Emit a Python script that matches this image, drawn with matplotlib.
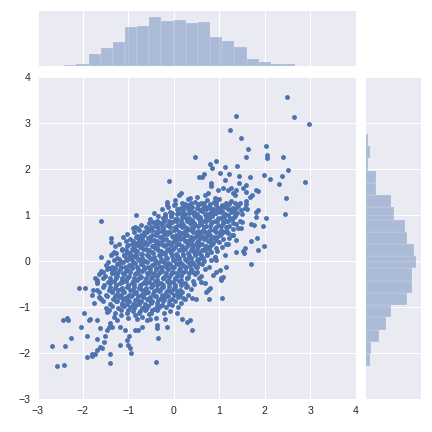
import numpy as np
import matplotlib
matplotlib.use("Agg")
import matplotlib.pyplot as plt

# scattered points (outside the dense middle)
outer_x = [2.5, 2.64, 2.97, 1.36, 1.23, 1.47, 2.04, 1.64, 2.05, 2.06,
           1.59, 2.4, 0.46, 0.8, 0.92, 0.84, 1.12, 1.4, 2.52, 0.66,
           0.62, 1.02, 1.22, 1.44, 1.68, 1.98, 2.11, 2.39, 2.32, 2.89,
           1.12, 0.82, 1.86, 2.46, 2.44, 2.04, 1.8, 1.7, 1.77, 1.97,
           1.84, 1.29, 1.72, 1.67, 1.59, 1.53, 1.26, 1.2, 1.09, 1.31,
           0.55, -0.11, 0.15, 0.11, 0.36, 0.5, -0.14, -0.15, 0.01, 0.36,
           -0.83, -0.43, -1.6, -0.19, -0.86, -0.81, -0.59, -1.38, 0.83, 1.43,
           0.98, 1.38, 1.34, 1.6, 1.82, 0.69, 0.76, 0.91, 1.86, 1.82,
           1.56, 0.1, 0.17, -0.46, -0.37, -0.26,
           -1.38, -1.6, -1.37, -1.31, -1.03, -0.96, -0.89, -1.73, -1.56, -1.36,
           -2.08, -1.95, -1.78, -1.8, -1.65, -1.62, -1.76, -2.43, -2.32, -2.35,
           -1.98, -2.05, -2.27, -2.68, -2.39, -2.58, -2.41, -1.91, -1.81, -1.79,
           -1.4, -1.4, -1.69, -1.62, -1.92, -1.69, -1.54, -1.51, -1.62, -1.47,
           -1.43, -1.18, -1.0, -0.96, -0.94, -0.39, -0.34, -1.02, -0.99, -1.4,
           -1.36, -1.87, -1.84, -1.69, -1.48, -1.43, -1.25, -1.18, -1.07, -0.85,
           -0.78, -0.7, -0.37, -0.36, -0.14, 0.17, 0.28, 0.39, 0.07, -0.19,
           -0.59, -0.52, -0.81, -1.43, -1.25, -1.69, -0.74, -0.81, -1.74, -1.57,
           1.71, 1.98, 1.86, 1.38, 1.53, 1.55, 1.71, 1.12, 1.07, 0.77,
           1.05, 1.09, 0.8, 0.76, 0.71, 0.87, 0.94, 1.02, 1.16, 0.61,
           0.69, 0.49, 0.39, 0.36, 0.21, 0.14, 0.1, 0.91, 0.94, 1.2,
           1.38, 1.09, 1.2, 1.49, 1.31, 1.56, 1.04]
outer_y = [3.57, 3.14, 2.98, 3.16, 2.85, 2.68, 2.5, 2.44, 2.31, 2.25,
           2.27, 2.27, 2.27, 2.11, 2.18, 2.03, 2.05, 2.07, 1.97, 1.89,
           1.83, 1.92, 1.89, 1.85, 1.83, 1.88, 1.79, 1.85, 1.68, 1.72,
           1.76, 1.64, 1.53, 1.38, 1.03, 0.94, 1.07, 0.8, 0.78, 0.77,
           0.49, 0.57, 1.43, 1.39, 1.65, 1.58, 1.58, 1.54, 1.58, 1.47,
           1.83, 1.75, 1.48, 1.44, 1.38, 1.4, 1.29, 1.21, 1.22, 1.22,
           1.01, 1.05, 0.88, 0.98, 0.75, 0.72, 0.7, 0.49, 1.69, 1.69,
           1.54, 1.54, 1.43, 1.51, 1.54, 1.43, 1.47, 1.36, 1.11, 0.96,
           1.15, 1.05, 1.02, 0.85, 0.82, 0.78,
           0.41, 0.09, 0.15, 0.2, 0.2, 0.08, 0.11, -0.38, -0.23, -0.2,
           -0.58, -0.58, -0.62, -0.74, -0.78, -0.81, -0.92, -1.28, -1.28, -1.23,
           -1.14, -1.44, -1.67, -1.85, -1.85, -2.28, -2.26, -2.08, -2.07, -2.02,
           -2.22, -2.02, -1.93, -1.88, -1.63, -1.69, -1.75, -1.63, -1.46, -1.49,
           -1.43, -1.83, -1.83, -1.9, -1.99, -2.19, -1.68, -1.72, -1.63, -1.35,
           -1.43, -1.28, -1.25, -1.28, -1.1, -1.07, -1.28, -1.43, -1.5, -1.5,
           -1.49, -1.43, -1.39, -1.46, -1.44, -1.25, -1.32, -1.49, -1.14, -1.25,
           -1.28, -1.25, -1.25, -0.16, -0.27, -0.45, 0.42, 0.35, -2.02, -1.9,
           0.44, 0.33, 0.24, 0.2, 0.22, 0.18, -0.06, 0.13, -0.8, -0.83,
           -0.38, -0.34, -0.59, -0.63, -0.67, -0.3, -0.23, -0.2, -0.14, -0.45,
           -0.48, -0.83, -0.81, -1.28, -0.81, -0.74, -0.99, 0.09, 0.02, 0.38,
           0.46, 0.64, 0.6, 0.71, 0.57, 0.28, -0.41]

# dense middle of the cloud, one line per band
core_x = [
    0.02, 0.18, 0.31, 0.47, 0.6, 0.73, 0.88, 1.0, 1.14, 1.27, 1.45, 1.58,
    -0.12, 0.03, 0.15, 0.29, 0.4, 0.55, 0.66, 0.79, 0.92, 1.03, 1.17, 1.3, 1.42, 1.58,
    -0.25, -0.08, 0.06, 0.2, 0.32, 0.45, 0.57, 0.7, 0.82, 0.95, 1.07, 1.2, 1.33, 1.47, 1.62,
    -0.35, -0.2, -0.06, 0.08, 0.19, 0.33, 0.44, 0.58, 0.69, 0.83, 0.94, 1.08, 1.19, 1.32, 1.5,
    -0.52, -0.38, -0.23, -0.1, 0.03, 0.16, 0.27, 0.41, 0.53, 0.66, 0.78, 0.9, 1.03, 1.15, 1.28, 1.45,
    -0.72, -0.55, -0.42, -0.28, -0.16, -0.03, 0.1, 0.22, 0.35, 0.47, 0.6, 0.72, 0.84, 0.97, 1.09, 1.22, 1.36, 1.5,
    -0.9, -0.76, -0.61, -0.49, -0.35, -0.22, -0.09, 0.04, 0.17, 0.29, 0.42, 0.54, 0.66, 0.79, 0.91, 1.04, 1.16, 1.3, 1.42,
    -1.02, -0.87, -0.73, -0.6, -0.47, -0.34, -0.21, -0.08, 0.05, 0.18, 0.3, 0.43, 0.55, 0.68, 0.8, 0.93, 1.05, 1.18, 1.31,
    -1.12, -0.97, -0.84, -0.7, -0.57, -0.44, -0.31, -0.18, -0.05, 0.08, 0.2, 0.33, 0.46, 0.58, 0.71, 0.83, 0.96, 1.08, 1.22,
    -1.2, -1.06, -0.92, -0.79, -0.66, -0.53, -0.4, -0.27, -0.14, -0.01, 0.12, 0.25, 0.37, 0.5, 0.62, 0.75, 0.87, 1.0, 1.14,
    -1.3, -1.15, -1.02, -0.88, -0.75, -0.62, -0.49, -0.36, -0.23, -0.1, 0.03, 0.16, 0.28, 0.41, 0.54, 0.66, 0.79, 0.92, 1.06,
    -1.28, -1.14, -1.0, -0.86, -0.73, -0.6, -0.47, -0.34, -0.21, -0.08, 0.05, 0.18, 0.31, 0.43, 0.56, 0.69, 0.82, 0.96,
    -1.38, -1.24, -1.1, -0.96, -0.83, -0.7, -0.57, -0.44, -0.31, -0.18, -0.05, 0.08, 0.21, 0.34, 0.47, 0.6, 0.73, 0.9,
    -1.45, -1.31, -1.17, -1.03, -0.9, -0.77, -0.64, -0.51, -0.38, -0.25, -0.12, 0.01, 0.14, 0.27, 0.4, 0.53, 0.67, 0.83,
    -1.5, -1.36, -1.22, -1.08, -0.95, -0.82, -0.69, -0.56, -0.43, -0.3, -0.17, -0.04, 0.09, 0.22, 0.35, 0.48, 0.62, 0.78,
    -1.6, -1.46, -1.32, -1.18, -1.05, -0.92, -0.79, -0.66, -0.53, -0.4, -0.27, -0.14, -0.01, 0.12, 0.25, 0.38, 0.52, 0.68,
    -1.65, -1.51, -1.37, -1.24, -1.11, -0.98, -0.85, -0.72, -0.59, -0.46, -0.33, -0.2, -0.07, 0.06, 0.19, 0.32, 0.46, 0.6,
    -1.7, -1.55, -1.41, -1.28, -1.15, -1.02, -0.89, -0.76, -0.63, -0.5, -0.37, -0.24, -0.11, 0.02, 0.15, 0.28, 0.42, 0.55,
    -1.68, -1.54, -1.4, -1.27, -1.14, -1.01, -0.88, -0.75, -0.62, -0.49, -0.36, -0.23, -0.1, 0.03, 0.16, 0.3, 0.45,
    -1.7, -1.56, -1.42, -1.29, -1.16, -1.03, -0.9, -0.77, -0.64, -0.51, -0.38, -0.25, -0.12, 0.01, 0.14, 0.27, 0.38,
    -1.64, -1.5, -1.37, -1.24, -1.11, -0.98, -0.85, -0.72, -0.59, -0.46, -0.33, -0.2, -0.07, 0.06, 0.19, 0.31,
    -1.6, -1.46, -1.33, -1.2, -1.07, -0.94, -0.81, -0.68, -0.55, -0.42, -0.29, -0.16, -0.03, 0.1, 0.24,
    -1.55, -1.41, -1.28, -1.15, -1.02, -0.89, -0.76, -0.63, -0.5, -0.37, -0.24, -0.11, 0.02, 0.15,
    -1.5, -1.36, -1.22, -1.09, -0.96, -0.83, -0.7, -0.57, -0.44, -0.31, -0.18, -0.04,
    -1.44, -1.3, -1.17, -1.03, -0.9, -0.77, -0.64, -0.5, -0.36, -0.21, -0.08,
    -1.32, -1.17, -1.0, -0.86, -0.7, -0.55, -0.4,
]
core_y = [
    1.32, 1.27, 1.34, 1.29, 1.26, 1.33, 1.28, 1.35, 1.27, 1.31, 1.26, 1.3,
    1.18, 1.23, 1.16, 1.21, 1.17, 1.24, 1.19, 1.15, 1.22, 1.18, 1.24, 1.16, 1.2, 1.23,
    1.12, 1.07, 1.13, 1.08, 1.14, 1.06, 1.11, 1.13, 1.07, 1.12, 1.09, 1.14, 1.06, 1.1, 1.12,
    0.98, 1.03, 0.97, 1.02, 0.96, 1.04, 0.99, 0.95, 1.03, 0.98, 1.04, 0.97, 1.01, 0.96, 1.03,
    0.92, 0.87, 0.93, 0.88, 0.91, 0.86, 0.93, 0.89, 0.94, 0.87, 0.91, 0.86, 0.93, 0.88, 0.92, 0.87,
    0.78, 0.83, 0.77, 0.82, 0.78, 0.84, 0.79, 0.76, 0.83, 0.78, 0.81, 0.76, 0.84, 0.79, 0.82, 0.77, 0.8, 0.84,
    0.72, 0.67, 0.73, 0.68, 0.71, 0.66, 0.73, 0.69, 0.74, 0.67, 0.71, 0.66, 0.73, 0.68, 0.72, 0.67, 0.74, 0.69, 0.72,
    0.58, 0.63, 0.57, 0.62, 0.56, 0.63, 0.59, 0.64, 0.57, 0.61, 0.56, 0.63, 0.58, 0.62, 0.57, 0.64, 0.59, 0.62, 0.57,
    0.52, 0.47, 0.53, 0.48, 0.51, 0.46, 0.53, 0.48, 0.54, 0.47, 0.51, 0.46, 0.53, 0.49, 0.52, 0.47, 0.53, 0.48, 0.51,
    0.38, 0.43, 0.37, 0.42, 0.36, 0.43, 0.39, 0.44, 0.37, 0.41, 0.36, 0.43, 0.38, 0.42, 0.37, 0.44, 0.39, 0.42, 0.37,
    0.32, 0.27, 0.33, 0.28, 0.31, 0.26, 0.33, 0.28, 0.34, 0.27, 0.31, 0.26, 0.33, 0.29, 0.32, 0.27, 0.33, 0.28, 0.31,
    0.18, 0.23, 0.17, 0.22, 0.16, 0.23, 0.19, 0.24, 0.17, 0.21, 0.16, 0.23, 0.18, 0.22, 0.17, 0.24, 0.19, 0.22,
    0.12, 0.07, 0.13, 0.08, 0.11, 0.06, 0.13, 0.08, 0.14, 0.07, 0.11, 0.06, 0.13, 0.09, 0.12, 0.07, 0.13, 0.08,
    -0.02, 0.03, -0.03, 0.02, -0.04, 0.03, -0.01, 0.04, -0.03, 0.01, -0.04, 0.03, -0.02, 0.02, -0.03, 0.04, -0.01, 0.02,
    -0.08, -0.13, -0.07, -0.12, -0.09, -0.14, -0.07, -0.12, -0.06, -0.13, -0.09, -0.14, -0.07, -0.11, -0.08, -0.13, -0.07, -0.12,
    -0.22, -0.17, -0.23, -0.18, -0.21, -0.16, -0.23, -0.18, -0.24, -0.17, -0.21, -0.16, -0.23, -0.19, -0.22, -0.17, -0.23, -0.18,
    -0.28, -0.33, -0.27, -0.32, -0.26, -0.33, -0.29, -0.34, -0.27, -0.31, -0.26, -0.33, -0.28, -0.32, -0.27, -0.34, -0.29, -0.32,
    -0.42, -0.37, -0.43, -0.38, -0.41, -0.36, -0.43, -0.38, -0.44, -0.37, -0.41, -0.36, -0.43, -0.39, -0.42, -0.37, -0.43, -0.38,
    -0.48, -0.53, -0.47, -0.52, -0.46, -0.53, -0.49, -0.54, -0.47, -0.51, -0.46, -0.53, -0.48, -0.52, -0.47, -0.54, -0.49,
    -0.62, -0.57, -0.63, -0.58, -0.61, -0.56, -0.63, -0.58, -0.64, -0.57, -0.61, -0.56, -0.63, -0.59, -0.62, -0.57, -0.61,
    -0.68, -0.73, -0.67, -0.72, -0.66, -0.73, -0.69, -0.74, -0.67, -0.71, -0.66, -0.73, -0.68, -0.72, -0.67, -0.73,
    -0.82, -0.77, -0.83, -0.78, -0.81, -0.76, -0.83, -0.78, -0.84, -0.77, -0.81, -0.76, -0.83, -0.79, -0.82,
    -0.88, -0.93, -0.87, -0.92, -0.86, -0.93, -0.89, -0.94, -0.87, -0.91, -0.86, -0.93, -0.88, -0.92,
    -1.02, -0.97, -1.03, -0.98, -1.01, -0.96, -1.03, -0.98, -1.04, -0.97, -1.01, -0.96,
    -1.08, -1.13, -1.07, -1.12, -1.09, -1.14, -1.07, -1.12, -1.06, -1.13, -1.09,
    -1.22, -1.17, -1.23, -1.18, -1.21, -1.16, -1.23,
]

# second, narrower layer filling the gaps in the middle
core2_x = [
    0.25, 0.38, 0.53, 0.66, 0.8, 0.94, 1.07, 1.21, 1.35,
    0.1, 0.23, 0.36, 0.5, 0.62, 0.76, 0.86, 1.0, 1.12, 1.25, 1.38,
    -0.05, 0.1, 0.24, 0.37, 0.5, 0.63, 0.76, 0.88, 1.01, 1.13, 1.27, 1.4,
    -0.2, -0.07, 0.06, 0.2, 0.33, 0.46, 0.58, 0.72, 0.85, 0.98, 1.1, 1.23, 1.35,
    -0.35, -0.22, -0.08, 0.05, 0.18, 0.3, 0.44, 0.57, 0.7, 0.82, 0.95, 1.08, 1.2, 1.3,
    -0.5, -0.36, -0.23, -0.1, 0.03, 0.16, 0.28, 0.41, 0.54, 0.67, 0.8, 0.92, 1.05, 1.18,
    -0.65, -0.52, -0.39, -0.26, -0.13, 0.0, 0.12, 0.25, 0.38, 0.5, 0.63, 0.76, 0.89, 1.01, 1.14,
    -0.8, -0.66, -0.53, -0.4, -0.27, -0.14, -0.01, 0.12, 0.24, 0.37, 0.5, 0.63, 0.75, 0.88, 1.02,
    -0.9, -0.77, -0.64, -0.51, -0.38, -0.24, -0.11, 0.02, 0.14, 0.27, 0.4, 0.53, 0.66, 0.79, 0.93,
    -1.0, -0.86, -0.72, -0.59, -0.46, -0.33, -0.2, -0.07, 0.06, 0.19, 0.32, 0.44, 0.57, 0.7, 0.85,
    -1.05, -0.92, -0.8, -0.67, -0.54, -0.41, -0.28, -0.15, -0.02, 0.11, 0.24, 0.37, 0.5, 0.63, 0.78,
    -1.1, -0.97, -0.84, -0.71, -0.58, -0.45, -0.32, -0.19, -0.06, 0.07, 0.2, 0.33, 0.46, 0.59, 0.73,
    -1.2, -1.06, -0.93, -0.8, -0.67, -0.54, -0.41, -0.28, -0.15, -0.02, 0.11, 0.24, 0.37, 0.5, 0.64,
    -1.25, -1.12, -0.99, -0.86, -0.73, -0.6, -0.47, -0.34, -0.21, -0.08, 0.05, 0.18, 0.31, 0.44, 0.56,
    -1.3, -1.17, -1.04, -0.91, -0.78, -0.65, -0.52, -0.39, -0.26, -0.13, 0.0, 0.13, 0.26, 0.38, 0.5,
    -1.35, -1.22, -1.09, -0.96, -0.83, -0.7, -0.57, -0.44, -0.31, -0.18, -0.05, 0.08, 0.21, 0.33, 0.42,
    -1.4, -1.27, -1.14, -1.01, -0.88, -0.75, -0.62, -0.49, -0.36, -0.23, -0.1, 0.03, 0.16, 0.29,
    -1.45, -1.32, -1.19, -1.06, -0.93, -0.8, -0.67, -0.54, -0.41, -0.28, -0.15, -0.02, 0.11, 0.24,
    -1.4, -1.27, -1.14, -1.01, -0.88, -0.75, -0.62, -0.49, -0.36, -0.23, -0.1, 0.03, 0.15,
    -1.35, -1.22, -1.09, -0.96, -0.83, -0.7, -0.57, -0.44, -0.31, -0.18, -0.05, 0.08,
    -1.3, -1.17, -1.04, -0.91, -0.78, -0.65, -0.52, -0.39, -0.26, -0.13, 0.0,
    -1.25, -1.12, -0.99, -0.86, -0.73, -0.6, -0.47, -0.34, -0.21, -0.1,
    -1.15, -1.02, -0.89, -0.76, -0.63, -0.5, -0.37, -0.25,
    -1.0, -0.87, -0.74, -0.61, -0.48, -0.35,
]
core2_y = [
    1.24, 1.27, 1.22, 1.26, 1.23, 1.28, 1.22, 1.25, 1.27,
    1.14, 1.17, 1.12, 1.16, 1.13, 1.18, 1.12, 1.15, 1.17, 1.13, 1.16,
    1.04, 1.07, 1.02, 1.06, 1.03, 1.08, 1.02, 1.05, 1.07, 1.03, 1.06, 1.04,
    0.94, 0.97, 0.92, 0.96, 0.93, 0.98, 0.92, 0.95, 0.97, 0.93, 0.96, 0.94, 0.97,
    0.84, 0.87, 0.82, 0.86, 0.83, 0.88, 0.82, 0.85, 0.87, 0.83, 0.86, 0.84, 0.87, 0.83,
    0.74, 0.77, 0.72, 0.76, 0.73, 0.78, 0.72, 0.75, 0.77, 0.73, 0.76, 0.74, 0.77, 0.73,
    0.64, 0.67, 0.62, 0.66, 0.63, 0.68, 0.62, 0.65, 0.67, 0.63, 0.66, 0.64, 0.67, 0.63, 0.66,
    0.54, 0.57, 0.52, 0.56, 0.53, 0.58, 0.52, 0.55, 0.57, 0.53, 0.56, 0.54, 0.57, 0.53, 0.56,
    0.44, 0.47, 0.42, 0.46, 0.43, 0.48, 0.42, 0.45, 0.47, 0.43, 0.46, 0.44, 0.47, 0.43, 0.46,
    0.34, 0.37, 0.32, 0.36, 0.33, 0.38, 0.32, 0.35, 0.37, 0.33, 0.36, 0.34, 0.37, 0.33, 0.36,
    0.24, 0.27, 0.22, 0.26, 0.23, 0.28, 0.22, 0.25, 0.27, 0.23, 0.26, 0.24, 0.27, 0.23, 0.26,
    0.14, 0.17, 0.12, 0.16, 0.13, 0.18, 0.12, 0.15, 0.17, 0.13, 0.16, 0.14, 0.17, 0.13, 0.16,
    0.04, 0.07, 0.02, 0.06, 0.03, 0.08, 0.02, 0.05, 0.07, 0.03, 0.06, 0.04, 0.07, 0.03, 0.06,
    -0.06, -0.03, -0.08, -0.04, -0.07, -0.02, -0.08, -0.05, -0.03, -0.07, -0.04, -0.06, -0.03, -0.07, -0.04,
    -0.16, -0.13, -0.18, -0.14, -0.17, -0.12, -0.18, -0.15, -0.13, -0.17, -0.14, -0.16, -0.13, -0.17, -0.14,
    -0.26, -0.23, -0.28, -0.24, -0.27, -0.22, -0.28, -0.25, -0.23, -0.27, -0.24, -0.26, -0.23, -0.27, -0.24,
    -0.36, -0.33, -0.38, -0.34, -0.37, -0.32, -0.38, -0.35, -0.33, -0.37, -0.34, -0.36, -0.33, -0.37,
    -0.46, -0.43, -0.48, -0.44, -0.47, -0.42, -0.48, -0.45, -0.43, -0.47, -0.44, -0.46, -0.43, -0.47,
    -0.56, -0.53, -0.58, -0.54, -0.57, -0.52, -0.58, -0.55, -0.53, -0.57, -0.54, -0.56, -0.53,
    -0.66, -0.63, -0.68, -0.64, -0.67, -0.62, -0.68, -0.65, -0.63, -0.67, -0.64, -0.66,
    -0.76, -0.73, -0.78, -0.74, -0.77, -0.72, -0.78, -0.75, -0.73, -0.77, -0.74,
    -0.86, -0.83, -0.88, -0.84, -0.87, -0.82, -0.88, -0.85, -0.83, -0.87,
    -0.96, -0.93, -0.98, -0.94, -0.97, -0.92, -0.98, -0.95,
    -1.06, -1.03, -1.08, -1.04, -1.07, -1.02,
]

# marginal histograms (bar heights)
top_counts = [1, 3, 5, 26, 39, 52, 85, 88, 107, 98, 100,
              93, 96, 63, 55, 41, 15, 8, 4, 4, 1]
top_start = -2.68
top_width = 0.2676

right_counts = [8, 11, 28, 44, 54, 90, 100, 101, 109, 105, 89,
                85, 61, 54, 21, 21, 5, 9, 4, 1, 1, 1]
right_start = -2.29
right_width = 0.2659

ticks = [-3, -2, -1, 0, 1, 2, 3, 4]

blue = "#4C72B0"
bg = "#EAEAF2"

plt.rcParams["font.family"] = ["Liberation Sans", "DejaVu Sans"]
plt.rcParams["font.size"] = 10.5
plt.rcParams["axes.unicode_minus"] = True


def style_axes(ax):
    ax.set_facecolor(bg)
    for s in ax.spines.values():
        s.set_visible(False)
    ax.tick_params(length=0, colors="#262626", labelsize=10.5, pad=7)
    ax.grid(True, color="white", linewidth=1)
    ax.set_axisbelow(True)


fig = plt.figure(figsize=(6, 6), dpi=72)
W = 432.0
ax = fig.add_axes([37.5 / W, 33 / W, 318 / W, 322 / W])
ax_top = fig.add_axes([37.5 / W, 366 / W, 318 / W, 55 / W])
ax_right = fig.add_axes([366 / W, 33 / W, 55 / W, 322 / W])

for a in (ax, ax_top, ax_right):
    style_axes(a)

for xs, ys in ((core_x, core_y), (core2_x, core2_y), (outer_x, outer_y)):
    ax.scatter(xs, ys, s=24, color=blue, linewidths=0, zorder=3)
ax.set_xlim(-3, 4)
ax.set_ylim(-3, 4)
ax.set_xticks(ticks)
ax.set_yticks(ticks)

top_left = [top_start + i * top_width for i in range(len(top_counts))]
ax_top.bar(top_left, top_counts, width=top_width, align="edge",
           color=blue, alpha=0.4, edgecolor="white", linewidth=0.4, zorder=3)
ax_top.set_xlim(-3, 4)
ax_top.set_ylim(0, 120)
ax_top.set_xticks(ticks)
ax_top.set_xticklabels([])
ax_top.set_yticks([])

right_bottom = [right_start + i * right_width for i in range(len(right_counts))]
ax_right.barh(right_bottom, right_counts, height=right_width, align="edge",
              color=blue, alpha=0.4, edgecolor="white", linewidth=0.4, zorder=3)
ax_right.set_ylim(-3, 4)
ax_right.set_xlim(0, 120)
ax_right.set_yticks(ticks)
ax_right.set_yticklabels([])
ax_right.set_xticks([])

fig.savefig("out.png", dpi=72)
